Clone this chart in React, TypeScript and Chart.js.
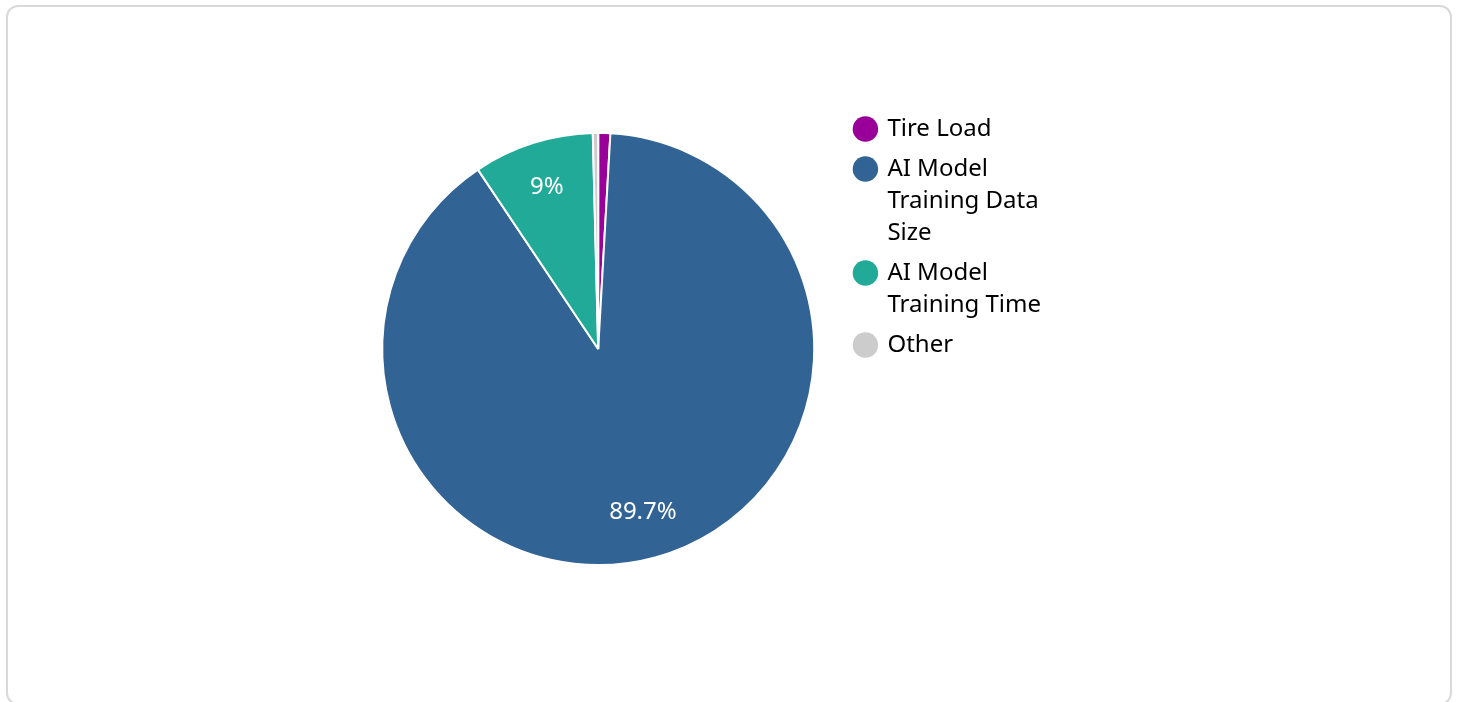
import React, { useEffect, useRef } from "react";
import { Chart, registerables } from "chart.js";

Chart.register(...registerables);

const categories = [
  "Tire Load",
  "AI Model Training Data Size",
  "AI Model Training Time",
  "Other",
];
const legendLines = [
  ["Tire Load"],
  ["AI Model", "Training Data", "Size"],
  ["AI Model", "Training Time"],
  ["Other"],
];
const shareValues = [0.9, 89.7, 9.0, 0.4];
const sliceColors = ["#990099", "#316395", "#22aa99", "#cccccc"];
const labelThreshold = 5;

export default function App() {
  const ref = useRef<HTMLCanvasElement>(null);

  useEffect(() => {
    if (!ref.current) return;
    const labelPlugin = {
      id: "sliceLabels",
      afterDatasetsDraw(chart: any) {
        const ctx = chart.ctx;
        const meta = chart.getDatasetMeta(0);
        const data = chart.data.datasets[0].data as number[];
        const total = data.reduce((a: number, b: number) => a + b, 0);
        ctx.save();
        ctx.fillStyle = "#ffffff";
        ctx.font = '24px "Noto Sans"';
        ctx.textAlign = "center";
        ctx.textBaseline = "middle";
        meta.data.forEach((arc: any, i: number) => {
          const pct = (data[i] / total) * 100;
          if (pct < labelThreshold) return;
          const { x, y, startAngle, endAngle, outerRadius } = arc.getProps(
            ["x", "y", "startAngle", "endAngle", "outerRadius"],
            true
          );
          const mid = (startAngle + endAngle) / 2;
          const r = outerRadius * 0.785;
          const text = `${Math.round(pct * 10) / 10}%`;
          ctx.fillText(text, x + Math.cos(mid) * r, y + Math.sin(mid) * r);
        });
        ctx.restore();
      },
    };

    const chart = new Chart(ref.current, {
      type: "pie",
      data: {
        labels: categories,
        datasets: [
          {
            data: shareValues,
            backgroundColor: sliceColors,
            borderColor: "#ffffff",
            borderWidth: 2,
            radius: 216,
          } as any,
        ],
      },
      options: {
        animation: false,
        responsive: true,
        maintainAspectRatio: false,
        layout: { padding: { left: 349, right: 407, top: 109, bottom: 113 } },
        plugins: {
          tooltip: { enabled: false },
          legend: {
            position: "right",
            align: "start",
            labels: {
              usePointStyle: true,
              pointStyle: "circle",
              boxWidth: 20,
              boxHeight: 18,
              padding: 8,
              color: "#333333",
              font: { family: '"Noto Sans"', size: 24, lineHeight: 32 / 24 },
              generateLabels: (chart: any) =>
                chart.data.labels.map((_: string, i: number) => ({
                  text: legendLines[i],
                  fillStyle: sliceColors[i],
                  strokeStyle: sliceColors[i],
                  lineWidth: 0,
                  pointStyle: "circle",
                  hidden: false,
                  index: i,
                })),
            },
          },
        },
      },
      plugins: [labelPlugin],
    });
    return () => chart.destroy();
  }, []);

  return (
    <div style={{ position: "absolute", left: 0, top: 0, width: 1458, height: 702, overflow: "hidden", background: "#ffffff" }}>
      <div
        style={{
          position: "absolute",
          left: 6,
          top: 5,
          width: 1446,
          height: 700,
          boxSizing: "border-box",
          border: "2px solid #d9d9d9",
          borderRadius: 12,
        }}
      />
      <div style={{ position: "absolute", left: 0, top: 0, width: 1458, height: 702 }}>
        <canvas ref={ref} />
      </div>
    </div>
  );
}
